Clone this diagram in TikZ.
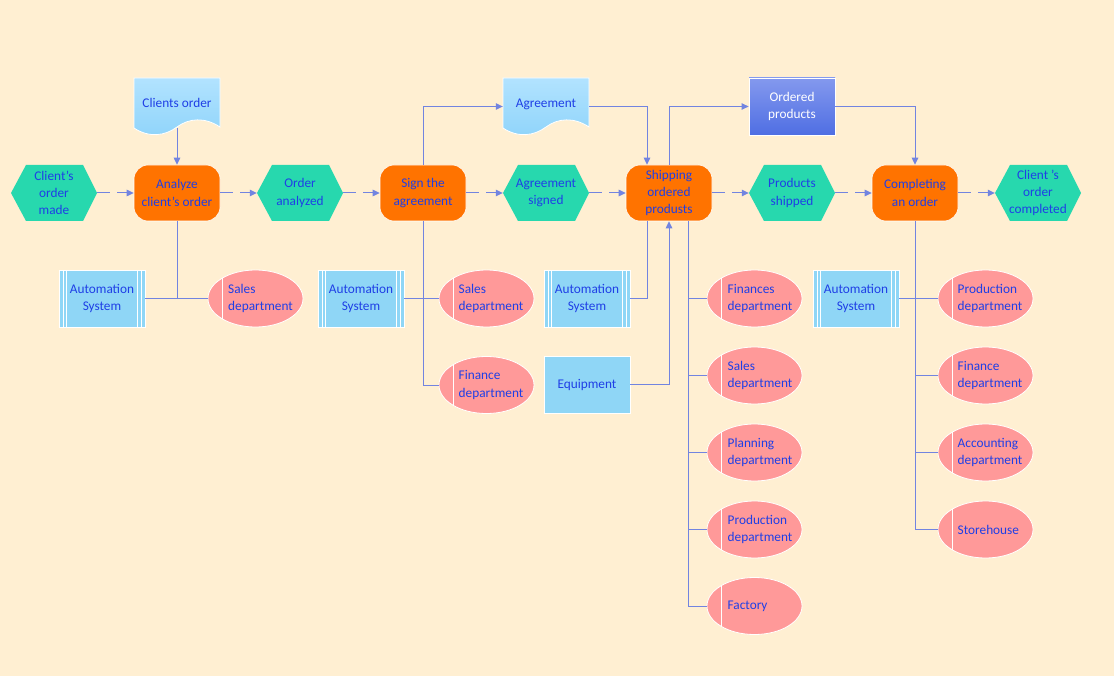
\documentclass[tikz,border=0pt]{standalone}
\usepackage{fontspec}
\setmainfont{Carlito}
\usetikzlibrary{arrows.meta,shapes.geometric,calc}
\definecolor{bgc}{HTML}{FFEFD2}
\definecolor{linec}{HTML}{7284E0}
\definecolor{txtc}{HTML}{1F3FE6}
\definecolor{hexc}{HTML}{27D8AE}
\definecolor{procc}{HTML}{FF7300}
\definecolor{sysc}{HTML}{8FD6F6}
\definecolor{ellc}{HTML}{FF9999}
\definecolor{doct}{HTML}{B2E3FF}
\definecolor{docb}{HTML}{8FD4FA}
\definecolor{prodt}{HTML}{8499EE}
\definecolor{prodb}{HTML}{4F6EE3}
\tikzset{
  every node/.style={font=\fontsize{13.3}{17.3}\selectfont,text=txtc,align=center,inner sep=0pt},
  boxshape/.style={minimum width=86pt,minimum height=57pt},
  hexbox/.style={minimum width=86pt,minimum height=56pt},
  procbox/.style={draw=white,fill=procc,rounded corners=14pt,line width=0.6pt,minimum width=86pt,minimum height=56pt},
  sysbox/.style={boxshape,draw=white,fill=sysc,line width=0.8pt},
  ellbox/.style={ellipse,draw=white,fill=ellc,line width=0.8pt,minimum width=95pt,minimum height=57pt},
  elltext/.style={anchor=west,align=left},
  prodbox/.style={boxshape,draw=white,line width=0.8pt,top color=prodt,bottom color=prodb,text=white},
  docshape/.style={draw=white,line width=0.8pt,top color=doct,bottom color=docb},
  conn/.style={draw=linec,line width=1pt},
  arr/.style={conn,-{Triangle[length=7pt,width=6.5pt]}},
  darr/.style={arr,dash pattern=on 13pt off 7pt on 40pt}
}
\newcommand{\hexn}[4]{%
  \fill[hexc] (#2-43,#3) -- (#2-28,#3-28) -- (#2+29,#3-28) -- (#2+43,#3) -- (#2+29,#3+28) -- (#2-28,#3+28) -- cycle;
  \node[hexbox] (#1) at (#2,#3) {#4};}
\newcommand{\docn}[4]{%
  \path[docshape] (#2-43,78) -- (#2+43,78) -- (#2+43,127) .. controls (#2+28,117) and (#2+12,118) .. (#2,127) .. controls (#2-12,136) and (#2-28,138) .. (#2-43,128) -- cycle;
  \node[boxshape] (#1) at (#2,#3) {\raisebox{7.5pt}{#4}};}
\newcommand{\sysn}[4]{%
  \node[sysbox] (#1) at (#2,#3) {#4};
  \draw[white,line width=0.8pt] (#2-39,#3-28.5) -- (#2-39,#3+28.5) (#2-35.3,#3-28.5) -- (#2-35.3,#3+28.5)
     (#2+35.5,#3-28.5) -- (#2+35.5,#3+28.5) (#2+39.5,#3-28.5) -- (#2+39.5,#3+28.5);}
\newcommand{\elln}[5]{%
  \node[ellbox] (#1) at (#2,#3) {};
  \draw[white,line width=0.8pt] (#2-33,#3-20.5) -- (#2-33,#3+20.5);
  \node[elltext] (#1t) at (#2-#5,#3) {#4};}
\begin{document}
\begin{tikzpicture}[x=1pt,y=-1pt]
\useasboundingbox[fill=bgc] (0,0) rectangle (1114,676);
% events
\hexn{e1}{54}{193}{Client's\\order\\made}
\hexn{e2}{300}{193}{Order\\analyzed}
\hexn{e3}{546}{193}{Agreement\\signed}
\hexn{e4}{792}{193}{Products\\shipped}
\hexn{e5}{1038}{193}{Client 's\\order\\completed}
% processes
\node[procbox] (p1) at (177,193) {Analyze\\client's order};
\node[procbox] (p2) at (423,193) {Sign the\\agreement};
\node[procbox] (p3) at (669,193) {Shipping\\ordered\\produsts};
\node[procbox] (p4) at (915,193) {Completing\\an order};
% documents
\docn{d1}{177}{106.5}{Clients order}
\docn{d2}{546}{106.5}{Agreement}
\node[prodbox] (d3) at (792,106.5) {Ordered\\products};
% systems
\sysn{s1}{102}{298.5}{Automation\\System}
\sysn{s2}{361}{298.5}{Automation\\System}
\sysn{s3}{587}{298.5}{Automation\\System}
\sysn{s4}{856}{298.5}{Automation\\System}
\node[sysbox] (q1) at (587,384.5) {Equipment};
% org units
\elln{a1}{255.5}{298.5}{Sales\\department}{27.5}
\elln{b1}{486.5}{298.5}{Sales\\department}{28}
\elln{b2}{486.5}{385}{Finance\\department}{28}
\elln{c1}{754.5}{298.5}{Finances\\department}{27}
\elln{c2}{754.5}{375.5}{Sales\\department}{27}
\elln{c3}{754.5}{452.5}{Planning\\department}{27}
\elln{c4}{754.5}{529.5}{Production\\department}{27}
\elln{c5}{754.5}{606}{Factory}{27}
\elln{g1}{985.5}{298.5}{Production\\department}{28}
\elln{g2}{985.5}{375.5}{Finance\\department}{28}
\elln{g3}{985.5}{452.5}{Accounting\\department}{28}
\elln{g4}{985.5}{529.5}{Storehouse}{28}
% flow
\foreach \u/\v in {e1/p1,p1/e2,e2/p2,p2/e3,e3/p3,p3/e4,e4/p4,p4/e5}{
  \draw[darr] (\u.east) -- (\v.west);
}
\draw[arr] ([yshift=7pt]d1.south) -- (p1.north);
\draw[conn] (s1.east) -- (a1.west);
\draw[conn] (p1.south) -- (p1.south |- s1.east);
\draw[arr] (p2.north) |- (d2.west);
\draw[conn] (p2.south) |- (b2.west);
\draw[conn] (s2.east) -- (b1.west);
\draw[arr] (d2.east) -| ([xshift=-22pt]p3.north);
\draw[conn] (s3.east) -| ([xshift=-22pt]p3.south);
\draw[arr] (q1.east) -| (p3.south);
\draw[arr] (p3.north) |- (d3.west);
\draw[arr] (d3.east) -| (p4.north);
\coordinate (t3) at ([xshift=19pt]p3.south);
\draw[conn] (t3) |- (c5.west);
\foreach \k in {c1,c2,c3,c4}{\draw[conn] (t3 |- \k.west) -- (\k.west);}
\draw[conn] (p4.south) |- (g4.west);
\draw[conn] (s4.east) -- (g1.west);
\foreach \k in {g2,g3}{\draw[conn] (p4.south |- \k.west) -- (\k.west);}
\end{tikzpicture}
\end{document}
